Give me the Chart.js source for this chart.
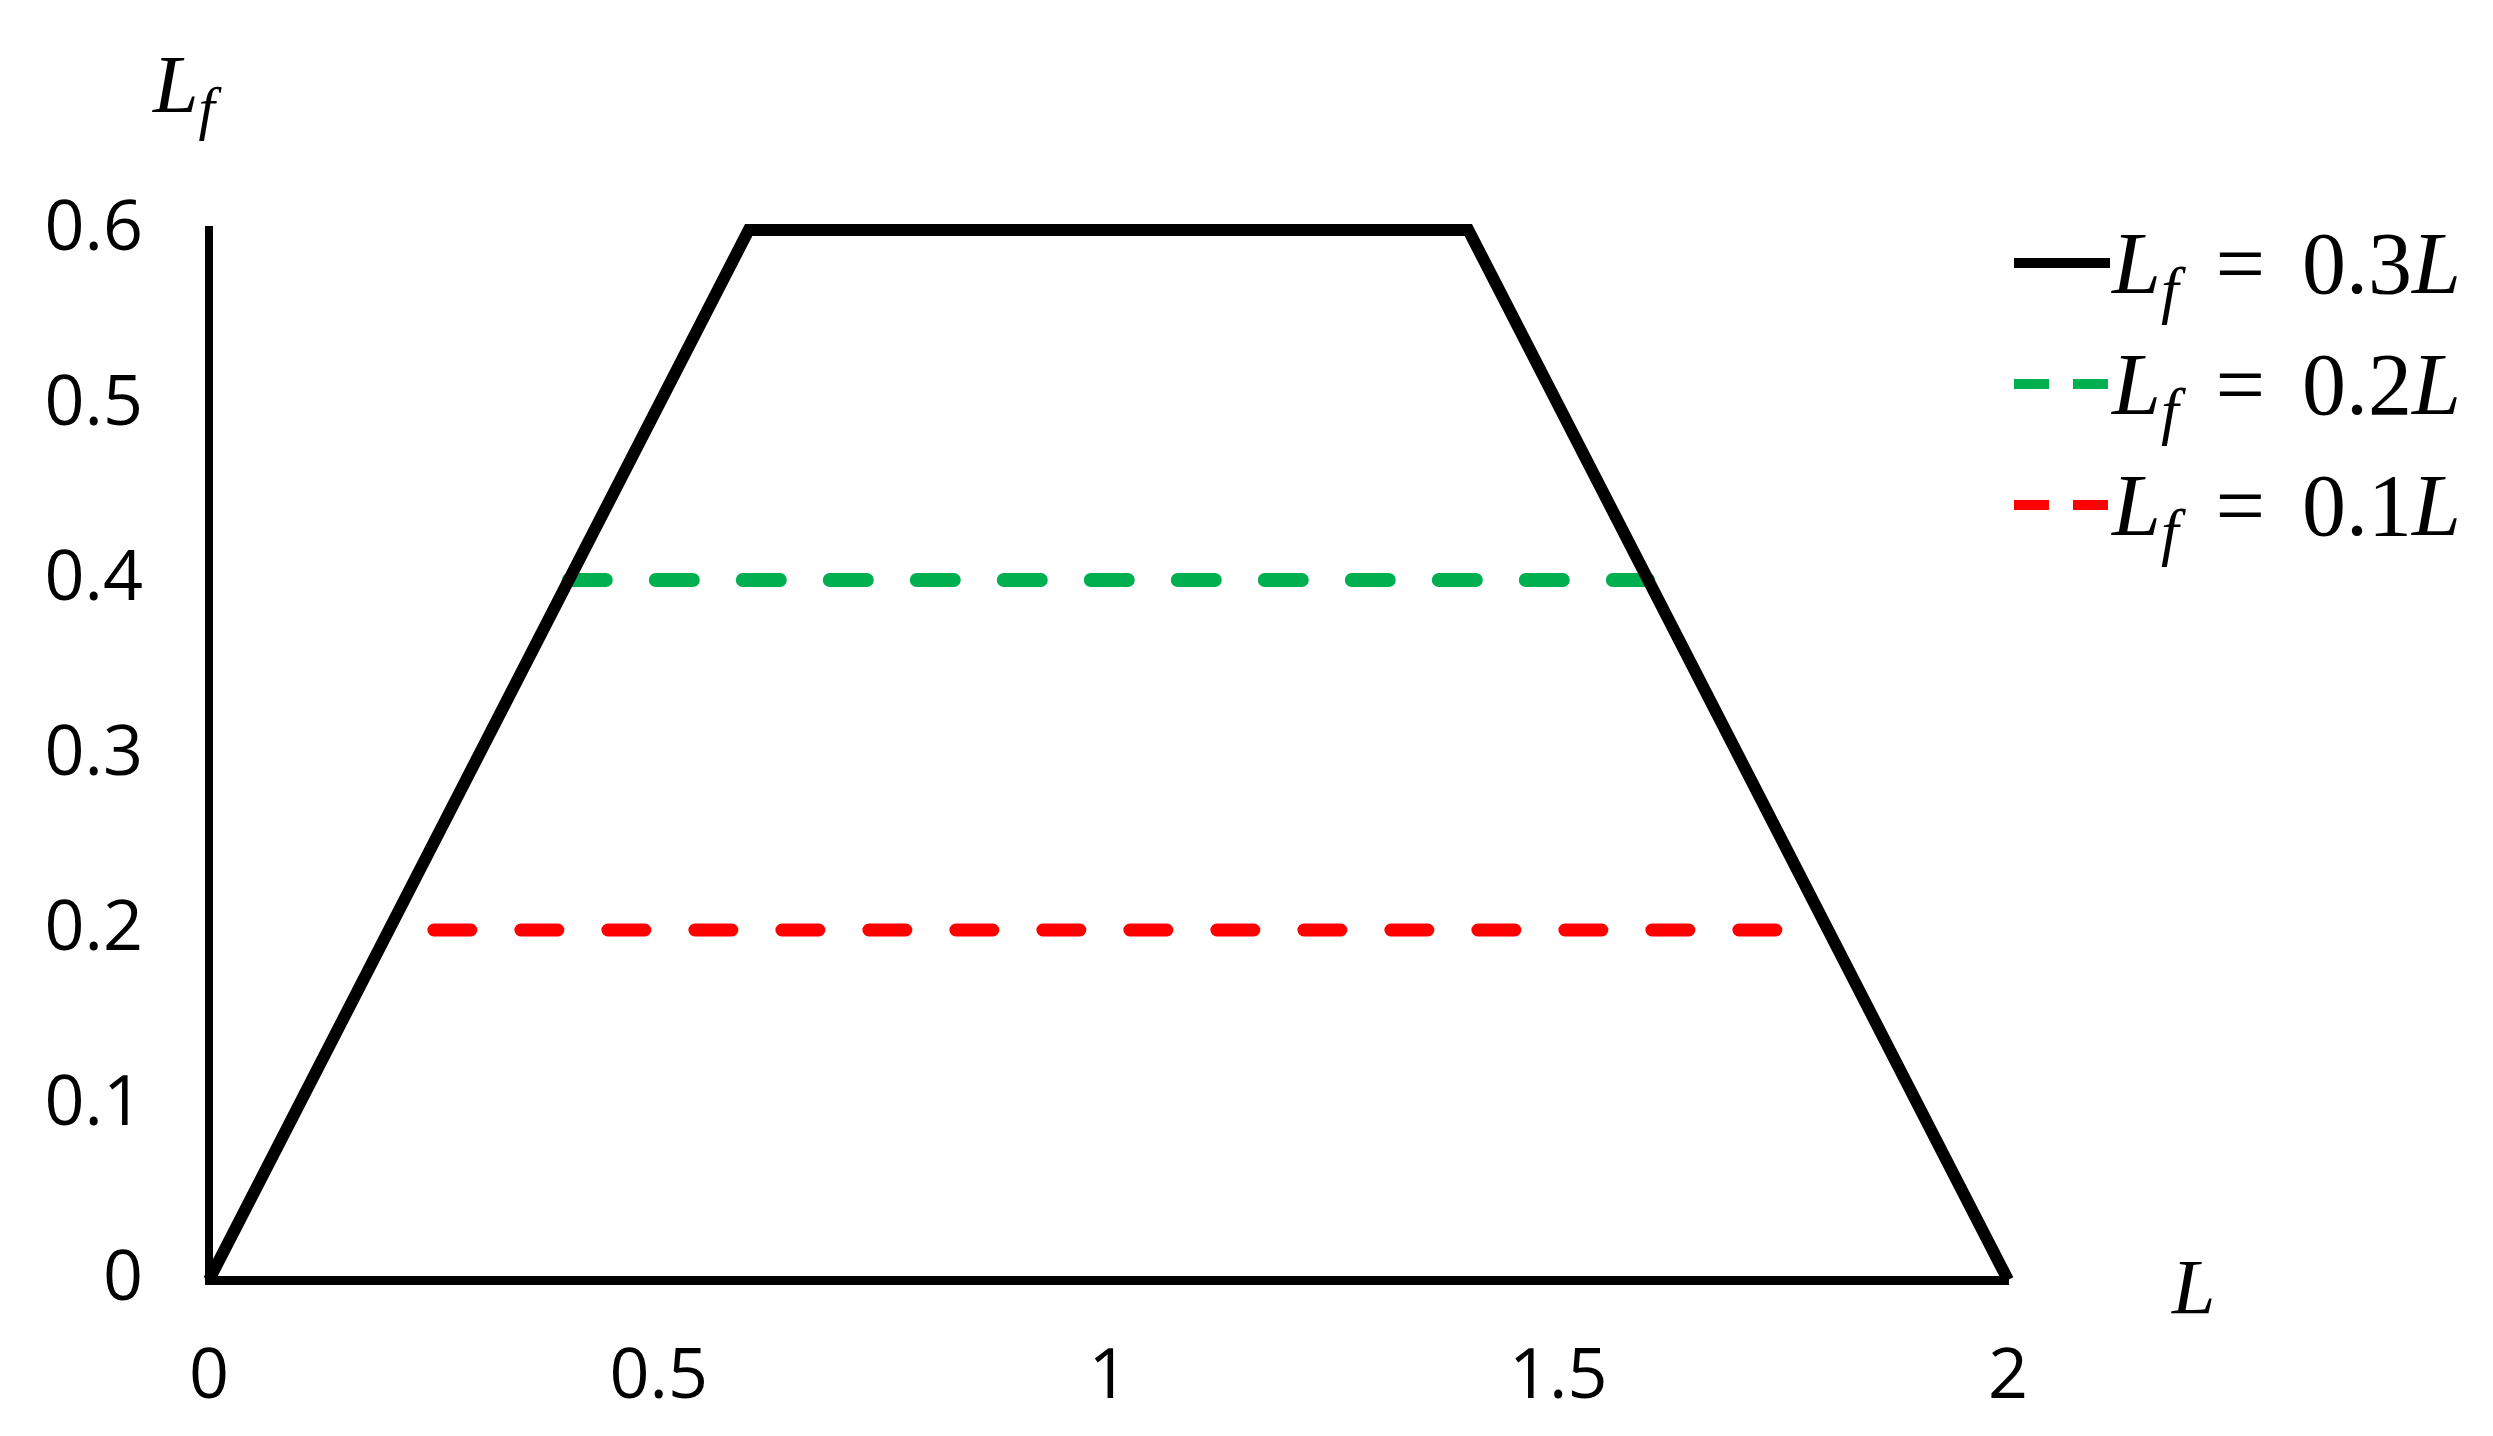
<!DOCTYPE html>
<html>
<head>
<meta charset="utf-8">
<script src="https://cdn.jsdelivr.net/npm/chart.js@4"></script>
<style>
  html, body { margin: 0; padding: 0; background: #fff; }
  #wrap { width: 2493px; height: 1436px; }
</style>
</head>
<body>
<div id="wrap"><canvas id="chart" width="2493" height="1436"></canvas></div>
<script>
const xTicks = [0, 0.5, 1, 1.5, 2];
const yTicks = [0, 0.1, 0.2, 0.3, 0.4, 0.5, 0.6];

const seriesNames = ["L_f = 0.3L", "L_f = 0.2L", "L_f = 0.1L"];
const seriesColors = ["#000000", "#00b050", "#ff0000"];

// Lf = 0.3L
const outerX = [0, 0.6, 1.4, 2];
const outerY = [0, 0.6, 0.6, 0];
// Lf = 0.2L
const midX = [0.4, 1.6];
const midY = [0.4, 0.4];
// Lf = 0.1L
const lowX = [0.25, 1.78];
const lowY = [0.2, 0.2];

const yTitle = "L_f";
const xTitle = "L";

const toPoints = (xs, ys) => xs.map((x, i) => ({ x: x, y: ys[i] }));

// draws text like "L_f = 0.3L": letters italic, "_" makes next char a subscript
function drawMath(ctx, str, x, y, size) {
  const runs = [];
  for (let i = 0; i < str.length; i++) {
    let ch = str[i], sub = false;
    if (ch === "_") { sub = true; ch = str[++i]; }
    const kind = ch === " " ? "sp" : (/[A-Za-z]/.test(ch) ? "it" : "up");
    const last = runs[runs.length - 1];
    if (last && last.kind === kind && last.sub === sub && kind !== "sp") last.t += ch;
    else runs.push({ t: ch, kind: kind, sub: sub });
  }
  let cx = x;
  ctx.textBaseline = "alphabetic";
  ctx.textAlign = "left";
  runs.forEach(r => {
    if (r.kind === "sp") { cx += size * 0.42; return; }
    const fs = r.sub ? size * 0.72 : size;
    ctx.font = (r.kind === "it" ? "italic " : "") + fs + 'px "Liberation Serif"';
    ctx.fillText(r.t, cx, y + (r.sub ? size * 0.2 : 0));
    cx += ctx.measureText(r.t).width;
  });
}

const dashStyles = [[], [35, 24], [35, 24]];

const extras = {
  id: "extras",
  afterDraw(chart) {
    const ctx = chart.ctx;
    ctx.save();
    ctx.fillStyle = "#000";
    drawMath(ctx, yTitle, 153, 112, 82);
    drawMath(ctx, xTitle, 2172, 1313, 78);

    chart.data.datasets.forEach((ds, i) => {
      const ly = 263 + i * 121;
      ctx.beginPath();
      ctx.setLineDash(dashStyles[i]);
      ctx.lineCap = "butt";
      ctx.lineWidth = 10;
      ctx.strokeStyle = ds.borderColor;
      ctx.moveTo(2014, ly);
      ctx.lineTo(2110, ly);
      ctx.stroke();
      ctx.setLineDash([]);
      ctx.fillStyle = "#000";
      drawMath(ctx, ds.label, 2112, ly + 30, 88);
    });
    ctx.restore();
  }
};

const tickFont = { family: "'Open Sans', sans-serif", size: 70 };

new Chart(document.getElementById("chart"), {
  type: "scatter",
  data: {
    datasets: [
      {
        label: seriesNames[0],
        data: toPoints(outerX, outerY),
        showLine: true,
        borderColor: seriesColors[0],
        borderWidth: 12,
        borderJoinStyle: "miter",
        pointRadius: 0,
        clip: false
      },
      {
        label: seriesNames[1],
        data: toPoints(midX, midY),
        showLine: true,
        borderColor: seriesColors[1],
        borderWidth: 14,
        borderDash: [37, 50],
        borderCapStyle: "round",
        pointRadius: 0,
        clip: false
      },
      {
        label: seriesNames[2],
        data: toPoints(lowX, lowY),
        showLine: true,
        borderColor: seriesColors[2],
        borderWidth: 13,
        borderDash: [37, 50],
        borderCapStyle: "round",
        pointRadius: 0,
        clip: false
      }
    ]
  },
  options: {
    responsive: false,
    devicePixelRatio: 1,
    animation: false,
    layout: { padding: { left: 0, right: 485, top: 230, bottom: 0 } },
    plugins: { legend: { display: false }, tooltip: { enabled: false } },
    scales: {
      x: {
        type: "linear",
        min: 0,
        max: 2,
        afterBuildTicks: s => { s.ticks = xTicks.map(v => ({ value: v })); },
        afterFit: s => { s.height = 156; },
        grid: { drawOnChartArea: false, drawTicks: false },
        border: { color: "#000", width: 9 },
        ticks: {
          font: tickFont,
          color: "#000",
          padding: 56,
          maxRotation: 0,
          autoSkip: false,
          callback: v => String(+(+v).toFixed(2))
        }
      },
      y: {
        type: "linear",
        min: 0,
        max: 0.6,
        afterBuildTicks: s => { s.ticks = yTicks.map(v => ({ value: v })); },
        afterFit: s => { s.width = 209; },
        grid: { drawOnChartArea: false, drawTicks: false },
        border: { color: "#000", width: 8 },
        ticks: {
          font: tickFont,
          color: "#000",
          padding: 66,
          autoSkip: false,
          callback: v => String(+(+v).toFixed(2))
        }
      }
    }
  },
  plugins: [extras]
});
</script>
</body>
</html>
